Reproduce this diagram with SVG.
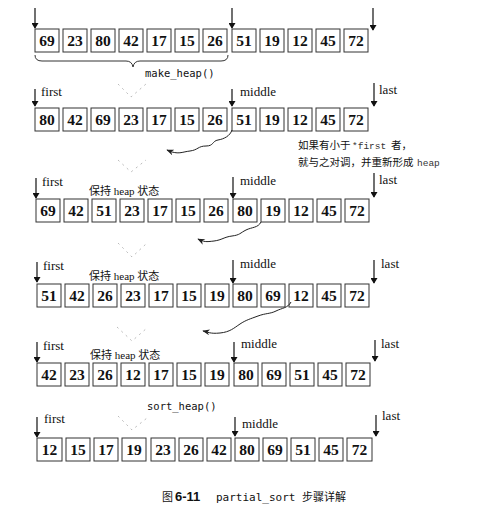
<svg xmlns="http://www.w3.org/2000/svg" width="502" height="513" viewBox="0 0 502 513">
<defs>
<style>
.b rect{fill:#fff;stroke:#333;stroke-width:1}
.b text{font-family:"Liberation Serif",serif;font-weight:bold;font-size:15.5px;text-anchor:middle;fill:#111}
.lbl{font-family:"Liberation Serif",serif;font-size:13px;fill:#111}
.cn{font-family:"Liberation Serif","Noto Sans CJK SC",serif;font-size:11px;fill:#111}
.mono{font-family:"DejaVu Sans Mono","Liberation Mono",monospace;font-size:10.5px;fill:#111}
.ann{font-family:"Noto Sans CJK SC",sans-serif;font-size:10.5px;fill:#111}
.annm{font-family:"Liberation Mono",monospace;font-size:9.5px;fill:#333}
.cap{font-family:"Noto Sans CJK SC",sans-serif;font-size:11px;fill:#111}
.ptr{stroke:#111;stroke-width:1.2;fill:none;marker-end:url(#ah)}
.wave{stroke:#222;stroke-width:1;fill:none;marker-end:url(#wh)}
.faint{stroke:#bbb;stroke-width:1;fill:none;stroke-dasharray:2 4}
</style>
<marker id="ah" viewBox="0 0 8 10" refX="7" refY="5" markerWidth="6" markerHeight="7" orient="auto" markerUnits="userSpaceOnUse"><path d="M0,0 L8,5 L0,10 z" fill="#111"/></marker>
<marker id="wh" viewBox="0 0 10 8" refX="9" refY="4" markerWidth="8" markerHeight="6" orient="auto" markerUnits="userSpaceOnUse"><path d="M0,0 L10,4 L0,8 L3,4 z" fill="#222"/></marker>
</defs>

<g id="row1">
<g id="r1b1" class="b"><rect x="35" y="29" width="24" height="23"/><text x="47" y="46">69</text></g>
<g id="r1b2" class="b"><rect x="63" y="29" width="24" height="23"/><text x="75" y="46">23</text></g>
<g id="r1b3" class="b"><rect x="91" y="29" width="24" height="23"/><text x="103" y="46">80</text></g>
<g id="r1b4" class="b"><rect x="119" y="29" width="24" height="23"/><text x="131" y="46">42</text></g>
<g id="r1b5" class="b"><rect x="147" y="29" width="24" height="23"/><text x="159" y="46">17</text></g>
<g id="r1b6" class="b"><rect x="175" y="29" width="24" height="23"/><text x="187" y="46">15</text></g>
<g id="r1b7" class="b"><rect x="203" y="29" width="24" height="23"/><text x="215" y="46">26</text></g>
<g id="r1b8" class="b"><rect x="232" y="29" width="24" height="23"/><text x="244" y="46">51</text></g>
<g id="r1b9" class="b"><rect x="260" y="29" width="24" height="23"/><text x="272" y="46">19</text></g>
<g id="r1b10" class="b"><rect x="288" y="29" width="24" height="23"/><text x="300" y="46">12</text></g>
<g id="r1b11" class="b"><rect x="316" y="29" width="24" height="23"/><text x="328" y="46">45</text></g>
<g id="r1b12" class="b"><rect x="344" y="29" width="24" height="23"/><text x="356" y="46">72</text></g>
</g>

<g id="row2">
<g id="r2b1" class="b"><rect x="35" y="108" width="24" height="23"/><text x="47" y="125">80</text></g>
<g id="r2b2" class="b"><rect x="63" y="108" width="24" height="23"/><text x="75" y="125">42</text></g>
<g id="r2b3" class="b"><rect x="91" y="108" width="24" height="23"/><text x="103" y="125">69</text></g>
<g id="r2b4" class="b"><rect x="119" y="108" width="24" height="23"/><text x="131" y="125">23</text></g>
<g id="r2b5" class="b"><rect x="147" y="108" width="24" height="23"/><text x="159" y="125">17</text></g>
<g id="r2b6" class="b"><rect x="175" y="108" width="24" height="23"/><text x="187" y="125">15</text></g>
<g id="r2b7" class="b"><rect x="203" y="108" width="24" height="23"/><text x="215" y="125">26</text></g>
<g id="r2b8" class="b"><rect x="232" y="108" width="24" height="23"/><text x="244" y="125">51</text></g>
<g id="r2b9" class="b"><rect x="260" y="108" width="24" height="23"/><text x="272" y="125">19</text></g>
<g id="r2b10" class="b"><rect x="288" y="108" width="24" height="23"/><text x="300" y="125">12</text></g>
<g id="r2b11" class="b"><rect x="316" y="108" width="24" height="23"/><text x="328" y="125">45</text></g>
<g id="r2b12" class="b"><rect x="344" y="108" width="24" height="23"/><text x="356" y="125">72</text></g>
</g>

<g id="row3">
<g id="r3b1" class="b"><rect x="36" y="199" width="24" height="23"/><text x="48" y="216">69</text></g>
<g id="r3b2" class="b"><rect x="64" y="199" width="24" height="23"/><text x="76" y="216">42</text></g>
<g id="r3b3" class="b"><rect x="92" y="199" width="24" height="23"/><text x="104" y="216">51</text></g>
<g id="r3b4" class="b"><rect x="120" y="199" width="24" height="23"/><text x="132" y="216">23</text></g>
<g id="r3b5" class="b"><rect x="148" y="199" width="24" height="23"/><text x="160" y="216">17</text></g>
<g id="r3b6" class="b"><rect x="176" y="199" width="24" height="23"/><text x="188" y="216">15</text></g>
<g id="r3b7" class="b"><rect x="204" y="199" width="24" height="23"/><text x="216" y="216">26</text></g>
<g id="r3b8" class="b"><rect x="233" y="199" width="24" height="23"/><text x="245" y="216">80</text></g>
<g id="r3b9" class="b"><rect x="261" y="199" width="24" height="23"/><text x="273" y="216">19</text></g>
<g id="r3b10" class="b"><rect x="289" y="199" width="24" height="23"/><text x="301" y="216">12</text></g>
<g id="r3b11" class="b"><rect x="317" y="199" width="24" height="23"/><text x="329" y="216">45</text></g>
<g id="r3b12" class="b"><rect x="345" y="199" width="24" height="23"/><text x="357" y="216">72</text></g>
</g>

<g id="row4">
<g id="r4b1" class="b"><rect x="37" y="284" width="24" height="23"/><text x="49" y="301">51</text></g>
<g id="r4b2" class="b"><rect x="65" y="284" width="24" height="23"/><text x="77" y="301">42</text></g>
<g id="r4b3" class="b"><rect x="93" y="284" width="24" height="23"/><text x="105" y="301">26</text></g>
<g id="r4b4" class="b"><rect x="121" y="284" width="24" height="23"/><text x="133" y="301">23</text></g>
<g id="r4b5" class="b"><rect x="149" y="284" width="24" height="23"/><text x="161" y="301">17</text></g>
<g id="r4b6" class="b"><rect x="177" y="284" width="24" height="23"/><text x="189" y="301">15</text></g>
<g id="r4b7" class="b"><rect x="205" y="284" width="24" height="23"/><text x="217" y="301">19</text></g>
<g id="r4b8" class="b"><rect x="233" y="284" width="24" height="23"/><text x="245" y="301">80</text></g>
<g id="r4b9" class="b"><rect x="261" y="284" width="24" height="23"/><text x="273" y="301">69</text></g>
<g id="r4b10" class="b"><rect x="289" y="284" width="24" height="23"/><text x="301" y="301">12</text></g>
<g id="r4b11" class="b"><rect x="317" y="284" width="24" height="23"/><text x="329" y="301">45</text></g>
<g id="r4b12" class="b"><rect x="345" y="284" width="24" height="23"/><text x="357" y="301">72</text></g>
</g>

<g id="row5">
<g id="r5b1" class="b"><rect x="37" y="363" width="24" height="23"/><text x="49" y="380">42</text></g>
<g id="r5b2" class="b"><rect x="65" y="363" width="24" height="23"/><text x="77" y="380">23</text></g>
<g id="r5b3" class="b"><rect x="93" y="363" width="24" height="23"/><text x="105" y="380">26</text></g>
<g id="r5b4" class="b"><rect x="121" y="363" width="24" height="23"/><text x="133" y="380">12</text></g>
<g id="r5b5" class="b"><rect x="149" y="363" width="24" height="23"/><text x="161" y="380">17</text></g>
<g id="r5b6" class="b"><rect x="177" y="363" width="24" height="23"/><text x="189" y="380">15</text></g>
<g id="r5b7" class="b"><rect x="205" y="363" width="24" height="23"/><text x="217" y="380">19</text></g>
<g id="r5b8" class="b"><rect x="234" y="363" width="24" height="23"/><text x="246" y="380">80</text></g>
<g id="r5b9" class="b"><rect x="262" y="363" width="24" height="23"/><text x="274" y="380">69</text></g>
<g id="r5b10" class="b"><rect x="290" y="363" width="24" height="23"/><text x="302" y="380">51</text></g>
<g id="r5b11" class="b"><rect x="318" y="363" width="24" height="23"/><text x="330" y="380">45</text></g>
<g id="r5b12" class="b"><rect x="346" y="363" width="24" height="23"/><text x="358" y="380">72</text></g>
</g>

<g id="row6">
<g id="r6b1" class="b"><rect x="37" y="438" width="25" height="23"/><text x="49.5" y="455">12</text></g>
<g id="r6b2" class="b"><rect x="66" y="438" width="24" height="23"/><text x="78" y="455">15</text></g>
<g id="r6b3" class="b"><rect x="94" y="438" width="24" height="23"/><text x="106" y="455">17</text></g>
<g id="r6b4" class="b"><rect x="122" y="438" width="24" height="23"/><text x="134" y="455">19</text></g>
<g id="r6b5" class="b"><rect x="151" y="438" width="24" height="23"/><text x="163" y="455">23</text></g>
<g id="r6b6" class="b"><rect x="179" y="438" width="24" height="23"/><text x="191" y="455">26</text></g>
<g id="r6b7" class="b"><rect x="207" y="438" width="24" height="23"/><text x="219" y="455">42</text></g>
<g id="r6b8" class="b"><rect x="235" y="438" width="24" height="23"/><text x="247" y="455">80</text></g>
<g id="r6b9" class="b"><rect x="263" y="438" width="24" height="23"/><text x="275" y="455">69</text></g>
<g id="r6b10" class="b"><rect x="291" y="438" width="24" height="23"/><text x="303" y="455">51</text></g>
<g id="r6b11" class="b"><rect x="319" y="438" width="24" height="23"/><text x="331" y="455">45</text></g>
<g id="r6b12" class="b"><rect x="347" y="438" width="25" height="23"/><text x="359.5" y="455">72</text></g>
</g>

<g id="connectors">
<path class="ptr" d="M35,8 V28"/><path class="ptr" d="M232,8 V28"/><path class="ptr" d="M373,8 V30"/>
<path class="ptr" d="M35,89 V106"/><path class="ptr" d="M232,89 V106"/><path class="ptr" d="M374,83 V106"/>
<path class="ptr" d="M36,178 V198"/><path class="ptr" d="M233,177 V198"/><path class="ptr" d="M374,173 V197"/>
<path class="ptr" d="M37,262 V282"/><path class="ptr" d="M233,260 V283"/><path class="ptr" d="M374,260 V283"/>
<path class="ptr" d="M37,342 V362"/><path class="ptr" d="M234,342 V362"/><path class="ptr" d="M375,340 V361"/>
<path class="ptr" d="M37,417 V437"/><path class="ptr" d="M235,417 V436"/><path class="ptr" d="M376,415 V436"/>
<path d="M35,55 Q35,61 42,61 L126,61 Q132,61 133,67 Q134,61 140,61 L221,61 Q228,61 228,55" fill="none" stroke="#333" stroke-width="1"/>
<path class="wave" d="M232,130 C230,136 224,139 218,140 S214,146 206,146 S198,150 190,151 S180,154 172,152 L167,150"/>
<path class="wave" d="M261,222 C258,228 252,227 246,230 S240,235 232,236 S222,240 214,241 S204,242 198,239"/>
<path class="wave" d="M291,302 C288,308 282,308 276,311 S266,313 258,316 S246,320 240,324 S230,332 220,333 S208,332 203,331"/>
<path class="faint" d="M118,84 L131,97 L146,84"/>
<path class="faint" d="M118,160 L131,172 L146,160"/>
<path class="faint" d="M118,243 L132,257 L146,244"/>
<path class="faint" d="M117,327 L132,341 L147,328"/>
<path class="faint" d="M118,416 L132,430 L147,418"/>
</g>

<g id="labels">
<text class="lbl" x="41" y="96">first</text>
<text class="lbl" x="240" y="96">middle</text>
<text class="lbl" x="379" y="94">last</text>
<text class="lbl" x="42" y="186">first</text>
<text class="lbl" x="240" y="185">middle</text>
<text class="lbl" x="379" y="184">last</text>
<text class="lbl" x="43" y="270">first</text>
<text class="lbl" x="240" y="268">middle</text>
<text class="lbl" x="381" y="268">last</text>
<text class="lbl" x="43" y="350">first</text>
<text class="lbl" x="241" y="348">middle</text>
<text class="lbl" x="381" y="348">last</text>
<text class="lbl" x="44" y="423">first</text>
<text class="lbl" x="242" y="428">middle</text>
<text class="lbl" x="382" y="420">last</text>
<text class="cn" x="89" y="195">保持 heap 状态</text>
<text class="cn" x="89" y="280">保持 heap 状态</text>
<text class="cn" x="90" y="359">保持 heap 状态</text>
<text class="mono" x="145" y="77">make_heap()</text>
<text class="mono" x="147" y="410">sort_heap()</text>
<text class="ann" x="298" y="149">如果有小于</text>
<text class="annm" x="352" y="149">*first</text>
<text class="ann" x="391" y="149">者，</text>
<text class="ann" x="298" y="166">就与之对调，并重新形成</text>
<text class="annm" x="417" y="166">heap</text>
</g>

<g id="caption">
<text class="cap" x="162" y="501">图</text>
<text x="175" y="501" style="font-family:'Liberation Sans',sans-serif;font-weight:bold;font-size:13px;fill:#111">6-11</text>
<text class="mono" x="216" y="501" style="font-size:11px">partial_sort</text>
<text class="cap" x="302" y="501">步骤详解</text>
</g>
</svg>
